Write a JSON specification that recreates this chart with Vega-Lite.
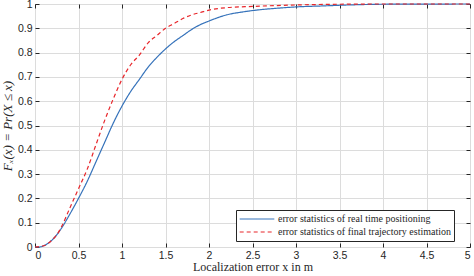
{
  "$schema": "https://vega.github.io/schema/vega-lite/v6.json",
  "autosize": {"type": "none"},
  "width": 435,
  "height": 243,
  "padding": {"left": 35, "top": 4, "right": 4, "bottom": 29},
  "background": "white",
  "config": {
    "view": {"stroke": "#262626", "strokeWidth": 1},
    "axis": {
      "gridColor": "#dcdcdc", "gridWidth": 1, "domain": false,
      "tickColor": "#262626", "tickSize": -4, "format": "~g",
      "labelFont": "Liberation Sans", "labelFontSize": 10.5, "labelColor": "#262626",
      "titleFont": "Liberation Serif", "titleFontSize": 12, "titleFontWeight": "normal", "titleColor": "#262626"
    },
    "legend": {
      "strokeColor": "#262626", "fillColor": "white", "padding": 3,
      "labelFont": "Liberation Serif", "labelFontSize": 10, "labelColor": "#262626", "labelLimit": 400,
      "symbolType": "stroke", "symbolSize": 1200, "symbolStrokeWidth": 1.2,
      "clipHeight": 12, "rowPadding": 1, "labelOffset": 3
    }
  },
  "data": {"values": [
    {"x": 0, "F": 0, "s": "error statistics of real time positioning"},
    {"x": 0.05, "F": 0, "s": "error statistics of real time positioning"},
    {"x": 0.1, "F": 0.005, "s": "error statistics of real time positioning"},
    {"x": 0.15, "F": 0.015, "s": "error statistics of real time positioning"},
    {"x": 0.2, "F": 0.03, "s": "error statistics of real time positioning"},
    {"x": 0.25, "F": 0.05, "s": "error statistics of real time positioning"},
    {"x": 0.3, "F": 0.075, "s": "error statistics of real time positioning"},
    {"x": 0.4, "F": 0.135, "s": "error statistics of real time positioning"},
    {"x": 0.5, "F": 0.2, "s": "error statistics of real time positioning"},
    {"x": 0.6, "F": 0.27, "s": "error statistics of real time positioning"},
    {"x": 0.7, "F": 0.35, "s": "error statistics of real time positioning"},
    {"x": 0.8, "F": 0.43, "s": "error statistics of real time positioning"},
    {"x": 0.9, "F": 0.51, "s": "error statistics of real time positioning"},
    {"x": 1.0, "F": 0.58, "s": "error statistics of real time positioning"},
    {"x": 1.1, "F": 0.64, "s": "error statistics of real time positioning"},
    {"x": 1.2, "F": 0.69, "s": "error statistics of real time positioning"},
    {"x": 1.3, "F": 0.74, "s": "error statistics of real time positioning"},
    {"x": 1.4, "F": 0.78, "s": "error statistics of real time positioning"},
    {"x": 1.5, "F": 0.815, "s": "error statistics of real time positioning"},
    {"x": 1.6, "F": 0.845, "s": "error statistics of real time positioning"},
    {"x": 1.7, "F": 0.87, "s": "error statistics of real time positioning"},
    {"x": 1.8, "F": 0.895, "s": "error statistics of real time positioning"},
    {"x": 1.9, "F": 0.915, "s": "error statistics of real time positioning"},
    {"x": 2.0, "F": 0.93, "s": "error statistics of real time positioning"},
    {"x": 2.2, "F": 0.955, "s": "error statistics of real time positioning"},
    {"x": 2.4, "F": 0.968, "s": "error statistics of real time positioning"},
    {"x": 2.6, "F": 0.977, "s": "error statistics of real time positioning"},
    {"x": 2.8, "F": 0.983, "s": "error statistics of real time positioning"},
    {"x": 3.0, "F": 0.988, "s": "error statistics of real time positioning"},
    {"x": 3.3, "F": 0.992, "s": "error statistics of real time positioning"},
    {"x": 3.6, "F": 0.996, "s": "error statistics of real time positioning"},
    {"x": 4.0, "F": 0.999, "s": "error statistics of real time positioning"},
    {"x": 5.0, "F": 1, "s": "error statistics of real time positioning"},
    {"x": 0, "F": 0, "s": "error statistics of final trajectory estimation"},
    {"x": 0.1, "F": 0.005, "s": "error statistics of final trajectory estimation"},
    {"x": 0.2, "F": 0.03, "s": "error statistics of final trajectory estimation"},
    {"x": 0.25, "F": 0.05, "s": "error statistics of final trajectory estimation"},
    {"x": 0.3, "F": 0.08, "s": "error statistics of final trajectory estimation"},
    {"x": 0.4, "F": 0.16, "s": "error statistics of final trajectory estimation"},
    {"x": 0.5, "F": 0.24, "s": "error statistics of final trajectory estimation"},
    {"x": 0.6, "F": 0.32, "s": "error statistics of final trajectory estimation"},
    {"x": 0.7, "F": 0.42, "s": "error statistics of final trajectory estimation"},
    {"x": 0.8, "F": 0.52, "s": "error statistics of final trajectory estimation"},
    {"x": 0.9, "F": 0.61, "s": "error statistics of final trajectory estimation"},
    {"x": 1.0, "F": 0.69, "s": "error statistics of final trajectory estimation"},
    {"x": 1.1, "F": 0.75, "s": "error statistics of final trajectory estimation"},
    {"x": 1.2, "F": 0.79, "s": "error statistics of final trajectory estimation"},
    {"x": 1.3, "F": 0.84, "s": "error statistics of final trajectory estimation"},
    {"x": 1.4, "F": 0.87, "s": "error statistics of final trajectory estimation"},
    {"x": 1.5, "F": 0.9, "s": "error statistics of final trajectory estimation"},
    {"x": 1.6, "F": 0.92, "s": "error statistics of final trajectory estimation"},
    {"x": 1.7, "F": 0.94, "s": "error statistics of final trajectory estimation"},
    {"x": 1.8, "F": 0.955, "s": "error statistics of final trajectory estimation"},
    {"x": 1.9, "F": 0.965, "s": "error statistics of final trajectory estimation"},
    {"x": 2.0, "F": 0.975, "s": "error statistics of final trajectory estimation"},
    {"x": 2.2, "F": 0.985, "s": "error statistics of final trajectory estimation"},
    {"x": 2.5, "F": 0.99, "s": "error statistics of final trajectory estimation"},
    {"x": 3.0, "F": 0.996, "s": "error statistics of final trajectory estimation"},
    {"x": 3.5, "F": 0.999, "s": "error statistics of final trajectory estimation"},
    {"x": 4.0, "F": 1, "s": "error statistics of final trajectory estimation"},
    {"x": 5.0, "F": 1, "s": "error statistics of final trajectory estimation"}
  ]},
  "layer": [
    {
      "mark": {"type": "line", "strokeWidth": 1.2, "interpolate": "monotone"},
      "encoding": {
        "x": {"field": "x", "type": "quantitative", "scale": {"domain": [0, 5], "nice": false},
              "axis": {"values": [0, 0.5, 1, 1.5, 2, 2.5, 3, 3.5, 4, 4.5, 5], "labelPadding": 7,
                       "title": "Localization error x in m", "titlePadding": 1}},
        "y": {"field": "F", "type": "quantitative", "scale": {"domain": [0, 1], "nice": false},
              "axis": {"values": [0, 0.1, 0.2, 0.3, 0.4, 0.5, 0.6, 0.7, 0.8, 0.9, 1], "labelPadding": 7,
                       "title": "Fₓ(x) = Pr(X ≤ x)", "titleFontStyle": "italic", "titleFontSize": 13, "titlePadding": 3}},
        "color": {"field": "s", "type": "nominal",
                  "scale": {"domain": ["error statistics of real time positioning", "error statistics of final trajectory estimation"], "range": ["#3572ba", "#e8262b"]},
                  "legend": {"title": null, "orient": "none", "legendX": 201, "legendY": 206}},
        "strokeDash": {"field": "s", "type": "nominal",
                       "scale": {"domain": ["error statistics of real time positioning", "error statistics of final trajectory estimation"], "range": [[1, 0], [4, 3]]},
                       "legend": {"title": null, "orient": "none", "legendX": 201, "legendY": 206}}
      }
    },
    {
      "mark": {"type": "line", "opacity": 0},
      "encoding": {
        "x": {"field": "x", "type": "quantitative", "scale": {"domain": [0, 5], "nice": false},
              "axis": {"orient": "top", "values": [0, 0.5, 1, 1.5, 2, 2.5, 3, 3.5, 4, 4.5, 5], "labels": false, "grid": false, "title": null}},
        "y": {"field": "F", "type": "quantitative", "scale": {"domain": [0, 1], "nice": false},
              "axis": {"orient": "right", "values": [0, 0.1, 0.2, 0.3, 0.4, 0.5, 0.6, 0.7, 0.8, 0.9, 1], "labels": false, "grid": false, "title": null}}
      }
    }
  ],
  "resolve": {"axis": {"x": "independent", "y": "independent"}}
}
